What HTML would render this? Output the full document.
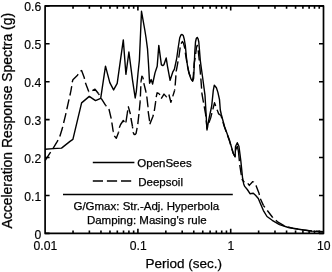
<!DOCTYPE html>
<html><head><meta charset="utf-8"><style>
html,body{margin:0;padding:0;background:#fff;}
body{width:332px;height:272px;overflow:hidden;}
svg{display:block;font-family:"Liberation Sans",Arial,Helvetica,sans-serif;}
</style></head><body>
<svg width="332" height="272" viewBox="0 0 332 272">
<rect width="332" height="272" fill="#fff"/>
<g fill="none" stroke="#000" stroke-linejoin="round">
<polyline points="45.0,149.2 53.1,148.6 61.5,148.1 70.0,141.4 72.9,139.4 81.6,102.9 89.3,96.4 95.5,100.6 100.7,98.3 105.5,66.1 109.8,82.6 113.6,89.9 117.2,83.3 123.3,39.9 125.9,74.3 128.9,52.0 132.6,80.6 135.2,98.0 136.3,91.6 138.0,73.2 139.4,60.0 140.7,30.0 141.5,11.3 144.8,30.0 146.0,37.5 147.5,48.8 148.5,64.0 149.6,83.2 151.2,79.6 152.6,84.0 155.0,72.9 157.2,66.3 158.8,45.4 161.4,64.8 162.8,65.6 163.9,64.8 166.2,58.0 167.5,66.3 170.1,80.3 172.7,72.2 174.4,69.1 176.6,59.0 178.3,47.0 179.7,38.0 180.8,35.2 182.0,34.4 183.3,35.6 184.3,39.5 185.3,45.5 186.5,58.0 187.5,66.0 188.9,73.1 191.1,79.2 192.6,81.2 193.6,78.5 194.2,67.0 194.8,52.0 195.5,42.0 196.3,38.5 197.2,37.4 198.1,38.8 198.8,42.0 200.3,60.6 201.3,68.0 202.7,78.0 205.0,95.3 207.0,130.0 209.2,117.7 211.7,106.0 213.3,90.4 214.3,85.2 216.4,87.8 217.9,92.4 219.5,99.6 220.3,110.0 221.3,114.5 224.5,126.5 229.6,140.6 233.3,153.5 235.1,157.0 235.5,146.5 237.3,142.7 238.9,146.2 239.9,153.5 240.9,161.7 242.6,178.2 243.7,183.9 244.7,186.4 247.3,189.5 250.0,193.7 253.3,193.2 255.5,195.3 258.3,198.5 260.5,203.8 263.4,210.6 267.0,216.5 272.2,220.3 279.5,224.6 288.4,227.5 296.0,228.8 303.3,230.0 311.7,231.1 318.9,231.5 323.2,231.7" stroke-width="1.4"/>
<polyline points="45.0,160.8 49.6,153.6 53.1,148.3 57.3,141.4 59.6,137.2 62.2,128.8 65.6,114.8 68.5,101.6 70.7,92.0" stroke-width="1.4" stroke-dasharray="10.2,3.9" stroke-dashoffset="13.88"/>
<polyline points="70.7,92.0 71.6,86.9 72.2,82.2 72.9,79.8 77.5,75.2 80.5,71.1" stroke-width="1.4" stroke-dasharray="10.2,3.9" stroke-dashoffset="4.18"/>
<polyline points="80.5,71.1 81.6,70.5 84.2,77.5 85.2,82.2 88.7,91.6" stroke-width="1.4" stroke-dasharray="10.2,3.9" stroke-dashoffset="0.00"/>
<polyline points="88.7,91.6 90.2,92.2 92.4,90.7 95.0,89.2 98.6,93.8" stroke-width="1.4" stroke-dasharray="10.2,3.9" stroke-dashoffset="9.82"/>
<polyline points="98.6,93.8 101.2,98.4 105.8,105.6" stroke-width="1.4" stroke-dasharray="10.2,3.9" stroke-dashoffset="8.82"/>
<polyline points="105.8,105.6 108.8,108.4 111.1,118.2" stroke-width="1.4" stroke-dasharray="10.2,3.9" stroke-dashoffset="9.40"/>
<polyline points="111.1,118.2 111.9,122.8 113.2,131.5" stroke-width="1.4" stroke-dasharray="10.2,3.9" stroke-dashoffset="9.74"/>
<polyline points="113.2,131.5 114.3,135.9 116.3,138.3 118.5,132.6" stroke-width="1.4" stroke-dasharray="10.2,3.9" stroke-dashoffset="9.56"/>
<polyline points="118.5,132.6 119.3,127.8 120.6,124.5 123.3,120.5 125.2,123.2" stroke-width="1.4" stroke-dasharray="10.2,3.9" stroke-dashoffset="9.23"/>
<polyline points="125.2,123.2 125.9,122.5 127.2,113.9" stroke-width="1.4" stroke-dasharray="10.2,3.9" stroke-dashoffset="13.11"/>
<polyline points="127.2,113.9 128.3,106.6 130.2,113.2" stroke-width="1.4" stroke-dasharray="10.2,3.9" stroke-dashoffset="6.72"/>
<polyline points="130.2,113.2 131.0,118.5 132.5,126.5" stroke-width="1.4" stroke-dasharray="10.2,3.9" stroke-dashoffset="9.26"/>
<polyline points="132.5,126.5 133.1,132.2 134.1,134.6 135.9,134.2" stroke-width="1.4" stroke-dasharray="10.2,3.9" stroke-dashoffset="8.37"/>
<polyline points="135.9,134.2 136.8,129.6 137.8,124.1 139.3,110.5" stroke-width="1.4" stroke-dasharray="10.2,3.9" stroke-dashoffset="3.82"/>
<polyline points="139.3,110.5 140.2,101.1" stroke-width="1.4" stroke-dasharray="10.2,3.9" stroke-dashoffset="14.09"/>
<polyline points="140.2,101.1 141.0,81.6" stroke-width="1.4" stroke-dasharray="10.2,3.9" stroke-dashoffset="9.50"/>
<polyline points="141.0,81.6 141.9,76.1 143.0,77.7" stroke-width="1.4" stroke-dasharray="10.2,3.9" stroke-dashoffset="0.00"/>
<polyline points="143.0,77.7 143.8,83.2 146.0,92.0" stroke-width="1.4" stroke-dasharray="10.2,3.9" stroke-dashoffset="8.54"/>
<polyline points="146.0,92.0 146.8,96.5 147.9,106.1" stroke-width="1.4" stroke-dasharray="10.2,3.9" stroke-dashoffset="9.53"/>
<polyline points="147.9,106.1 148.1,111.0 149.5,120.4 149.8,124.3" stroke-width="1.4" stroke-dasharray="10.2,3.9" stroke-dashoffset="9.00"/>
<polyline points="149.8,124.3 152.9,116.5 154.3,111.0 155.6,102.2" stroke-width="1.4" stroke-dasharray="10.2,3.9" stroke-dashoffset="0.03"/>
<polyline points="155.6,102.2 156.2,97.2 157.1,92.8 159.3,93.7" stroke-width="1.4" stroke-dasharray="10.2,3.9" stroke-dashoffset="9.06"/>
<polyline points="159.3,93.7 161.2,98.6 164.0,94.1 166.5,96.9" stroke-width="1.4" stroke-dasharray="10.2,3.9" stroke-dashoffset="8.84"/>
<polyline points="166.5,96.9 167.6,97.4 168.9,94.5 170.9,102.2 174.6,90.5" stroke-width="1.4" stroke-dasharray="10.2,3.9" stroke-dashoffset="9.71"/>
<polyline points="174.6,90.5 175.2,85.0 176.2,71.4 177.5,64.3 179.0,56.0 180.2,47.5 181.4,43.2 182.5,41.5 183.6,43.5 184.6,47.5 185.8,56.0 187.2,64.5 189.0,72.8 191.1,79.0 192.5,80.8 193.4,75.0 194.1,63.7 195.2,57.5 196.5,47.5 197.2,45.3 197.9,47.5 199.3,60.6 200.3,72.0 201.0,80.5 202.0,94.2 205.6,114.1 207.0,128.5 210.7,117.7 212.2,111.9 214.5,102.8 216.1,107.2 217.7,111.3 218.7,113.9 221.0,115.5 224.3,126.5 229.4,140.8 233.3,153.5 234.9,156.3 235.8,149.5 237.3,146.3 238.4,151.0" stroke-width="1.4" stroke-dasharray="10.2,3.9" stroke-dashoffset="9.08"/>
<polyline points="238.4,151.0 239.9,166.0 241.2,174.4 242.3,179.8 244.3,182.3" stroke-width="1.4" stroke-dasharray="10.2,3.9" stroke-dashoffset="0.00"/>
<polyline points="244.3,182.3 247.8,183.3 249.3,185.4 252.6,181.7 253.3,181.6" stroke-width="1.4" stroke-dasharray="10.2,3.9" stroke-dashoffset="10.46"/>
<polyline points="253.3,181.6 256.0,185.4 259.1,193.6 260.2,198.4 263.5,205.6" stroke-width="1.4" stroke-dasharray="10.2,3.9" stroke-dashoffset="9.44"/>
<polyline points="263.5,205.6 267.5,210.8 272.5,217.3" stroke-width="1.4" stroke-dasharray="10.2,3.9" stroke-dashoffset="7.96"/>
<polyline points="272.5,217.3 278.0,222.2 285.4,226.3 293.0,228.4 303.3,229.9 311.7,231.0 318.9,231.4 323.2,231.6" stroke-width="1.4" stroke-dasharray="10.2,3.9" stroke-dashoffset="9.57"/>
<path d="M45.1 233.40h4.5M323.5 233.40h-4.5M45.1 195.48h4.5M323.5 195.48h-4.5M45.1 157.57h4.5M323.5 157.57h-4.5M45.1 119.65h4.5M323.5 119.65h-4.5M45.1 81.73h4.5M323.5 81.73h-4.5M45.1 43.82h4.5M323.5 43.82h-4.5M45.1 5.90h4.5M323.5 5.90h-4.5M73.04 233.4v-2.8M73.04 5.9v2.8M89.38 233.4v-2.8M89.38 5.9v2.8M100.97 233.4v-2.8M100.97 5.9v2.8M109.96 233.4v-2.8M109.96 5.9v2.8M117.31 233.4v-2.8M117.31 5.9v2.8M123.53 233.4v-2.8M123.53 5.9v2.8M128.91 233.4v-2.8M128.91 5.9v2.8M133.65 233.4v-2.8M133.65 5.9v2.8M137.90 233.4v-4.6M137.90 5.9v4.6M165.84 233.4v-2.8M165.84 5.9v2.8M182.18 233.4v-2.8M182.18 5.9v2.8M193.77 233.4v-2.8M193.77 5.9v2.8M202.76 233.4v-2.8M202.76 5.9v2.8M210.11 233.4v-2.8M210.11 5.9v2.8M216.33 233.4v-2.8M216.33 5.9v2.8M221.71 233.4v-2.8M221.71 5.9v2.8M226.45 233.4v-2.8M226.45 5.9v2.8M230.70 233.4v-4.6M230.70 5.9v4.6M258.64 233.4v-2.8M258.64 5.9v2.8M274.98 233.4v-2.8M274.98 5.9v2.8M286.57 233.4v-2.8M286.57 5.9v2.8M295.56 233.4v-2.8M295.56 5.9v2.8M302.91 233.4v-2.8M302.91 5.9v2.8M309.13 233.4v-2.8M309.13 5.9v2.8M314.51 233.4v-2.8M314.51 5.9v2.8M319.25 233.4v-2.8M319.25 5.9v2.8" stroke-width="1.6"/>
<rect x="45.1" y="5.9" width="278.4" height="227.5" stroke-width="1.7"/>
<path d="M92.8 162.5H134.4" stroke-width="1.5"/>
<path d="M92.8 181.1H131.5" stroke-width="1.5" stroke-dasharray="10.2,3.9"/>
<path d="M63 194.4H232.8" stroke-width="1.5"/>
</g>
<g font-size="12.2" fill="#000" stroke="#000" stroke-width="0.15"><g text-anchor="end"><text x="41.3" y="238.8">0</text><text x="41.3" y="200.9">0.1</text><text x="41.3" y="163.0">0.2</text><text x="41.3" y="125.0">0.3</text><text x="41.3" y="87.1">0.4</text><text x="41.3" y="49.2">0.5</text><text x="41.3" y="11.3">0.6</text></g><text x="45.4" y="249.9" text-anchor="middle">0.01</text><text x="138.2" y="249.9" text-anchor="middle">0.1</text><text x="231.0" y="249.9" text-anchor="middle">1</text><text x="323.8" y="249.9" text-anchor="middle">10</text></g>
<g font-size="11.5" fill="#000" stroke="#000" stroke-width="0.25">
<text x="137.3" y="167.3">OpenSees</text>
<text x="138.2" y="186">Deepsoil</text>
<text x="146.3" y="209.6" text-anchor="middle">G/Gmax: Str.-Adj. Hyperbola</text>
<text x="146.8" y="223.7" text-anchor="middle">Damping: Masing's rule</text>
</g>
<text x="183.8" y="268.2" font-size="13.5" text-anchor="middle" stroke="#000" stroke-width="0.25">Period (sec.)</text>
<text transform="translate(11.6 120.7) rotate(-90)" font-size="13.9" text-anchor="middle" stroke="#000" stroke-width="0.25">Acceleration Response Spectra (g)</text>
</svg>
</body></html>
